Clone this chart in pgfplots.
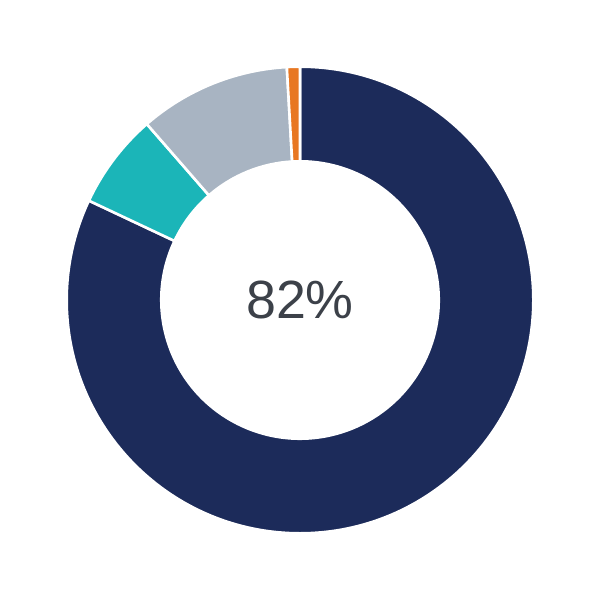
\documentclass[border=0pt]{standalone}
\usepackage{pgfplots}
\usepackage{pgfplotstable}
\pgfplotsset{compat=1.18}
\usepackage{fontspec}
\setmainfont{Liberation Sans}
\definecolor{navyc}{HTML}{1C2B5A}
\definecolor{tealc}{HTML}{1BB5B8}
\definecolor{grayc}{HTML}{A8B4C2}
\definecolor{orangec}{HTML}{E87722}
\definecolor{textc}{HTML}{3C4149}
\pgfplotstableread{
label value color
A 82.0 navyc
B 6.6 tealc
C 10.5 grayc
D 0.9 orangec
}\piedata
\begin{document}
\begin{tikzpicture}
\begin{axis}[hide axis, scale only axis, width=600bp, height=600bp,
  xmin=-300, xmax=300, ymin=-300, ymax=300, clip=false]
\path (axis cs:-300,-300) rectangle (axis cs:300,300);
\gdef\a{90}
\pgfplotstableforeachcolumnelement{value}\of\piedata\as\v{%
  \pgfmathsetmacro\b{\a - 3.6*\v}%
  \pgfplotstablegetelem{\pgfplotstablerow}{color}\of\piedata
  \let\c\pgfplotsretval
  \edef\temp{\noexpand\fill[\c, draw=white, line width=2.6bp, line join=miter]
    (axis cs:{233.3*cos(\a)},{233.3*sin(\a)}) arc[start angle=\a, end angle=\b, radius=233.3bp]
    -- (axis cs:{138.7*cos(\b)},{138.7*sin(\b)}) arc[start angle=\b, end angle=\a, radius=138.7bp] -- cycle;}%
  \temp
  \global\let\a\b
}
\node[text=textc, font=\fontsize{54}{60}\selectfont] at (axis cs:0,0) {82\%};
\end{axis}
\end{tikzpicture}
\end{document}
